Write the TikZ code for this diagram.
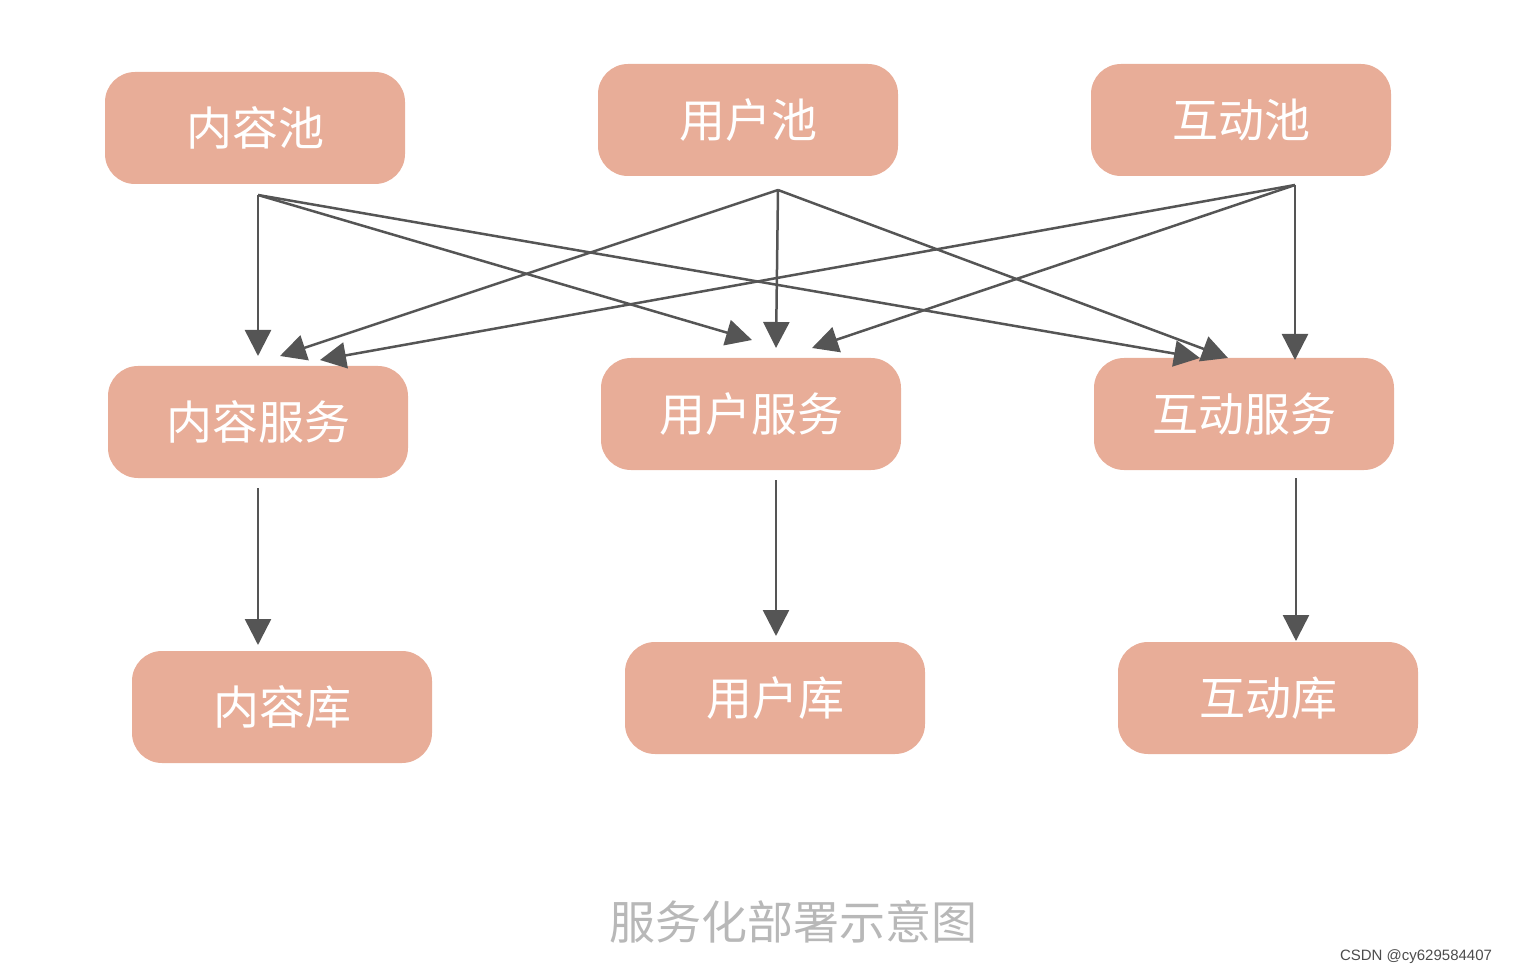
\documentclass[tikz,border=0pt]{standalone}
\usepackage{fontspec}
\newfontfamily\cjk{Noto Sans CJK SC}
\usetikzlibrary{arrows.meta}
\definecolor{boxc}{HTML}{E8AD98}
\definecolor{arr}{HTML}{555555}
\begin{document}
\begin{tikzpicture}[x=1pt,y=-1pt,
  box/.style={draw=none,fill=boxc,rounded corners=30pt,minimum width=300pt,minimum height=112pt,text=white,font=\cjk\fontsize{46}{50}\selectfont},
  arrline/.style={draw=arr,line width=2.5pt,-{Triangle[length=26pt,width=26pt]}}]
\useasboundingbox (0,0) rectangle (1516,976);
\node[box] (cp) at (255,128) {内容池};
\node[box] (up) at (748,120) {用户池};
\node[box] (ip) at (1241,120) {互动池};
\node[box] (cs) at (258,422) {内容服务};
\node[box] (us) at (751,414) {用户服务};
\node[box] (is) at (1244,414) {互动服务};
\node[box] (cd) at (282,707) {内容库};
\node[box] (ud) at (775,698) {用户库};
\node[box] (id) at (1268,698) {互动库};
\coordinate (s1) at (258,195);
\coordinate (s2) at (778,190);
\coordinate (s3) at (1295,185);
\coordinate (c1) at (258,356); \coordinate (c2) at (280,356); \coordinate (c3) at (320,360);
\coordinate (u1) at (752,340); \coordinate (u2) at (776,348); \coordinate (u3) at (812,348);
\coordinate (i1) at (1200,358); \coordinate (i2) at (1228,358); \coordinate (i3) at (1295,360);
\draw[arrline] (s1) -- (c1);
\draw[arrline] (s1) -- (u1);
\draw[arrline] (s1) -- (i1);
\draw[arrline] (s2) -- (c2);
\draw[arrline] (s2) -- (u2);
\draw[arrline] (s2) -- (i2);
\draw[arrline] (s3) -- (c3);
\draw[arrline] (s3) -- (u3);
\draw[arrline] (s3) -- (i3);
\coordinate (b1) at (258,488); \coordinate (b1e) at (258,645);
\coordinate (b2) at (776,480); \coordinate (b2e) at (776,636);
\coordinate (b3) at (1296,478); \coordinate (b3e) at (1296,641);
\draw[arrline] (b1) -- (b1e);
\draw[arrline] (b2) -- (b2e);
\draw[arrline] (b3) -- (b3e);
\node[text=black!28,font=\cjk\fontsize{46}{50}\selectfont] (cap) at (793,922) {服务化部署示意图};
\node[text=black!70,font=\fontspec{Liberation Sans}\fontsize{15}{18}\selectfont] (wm) at (1416,957) {CSDN @cy629584407};
\end{tikzpicture}
\end{document}
